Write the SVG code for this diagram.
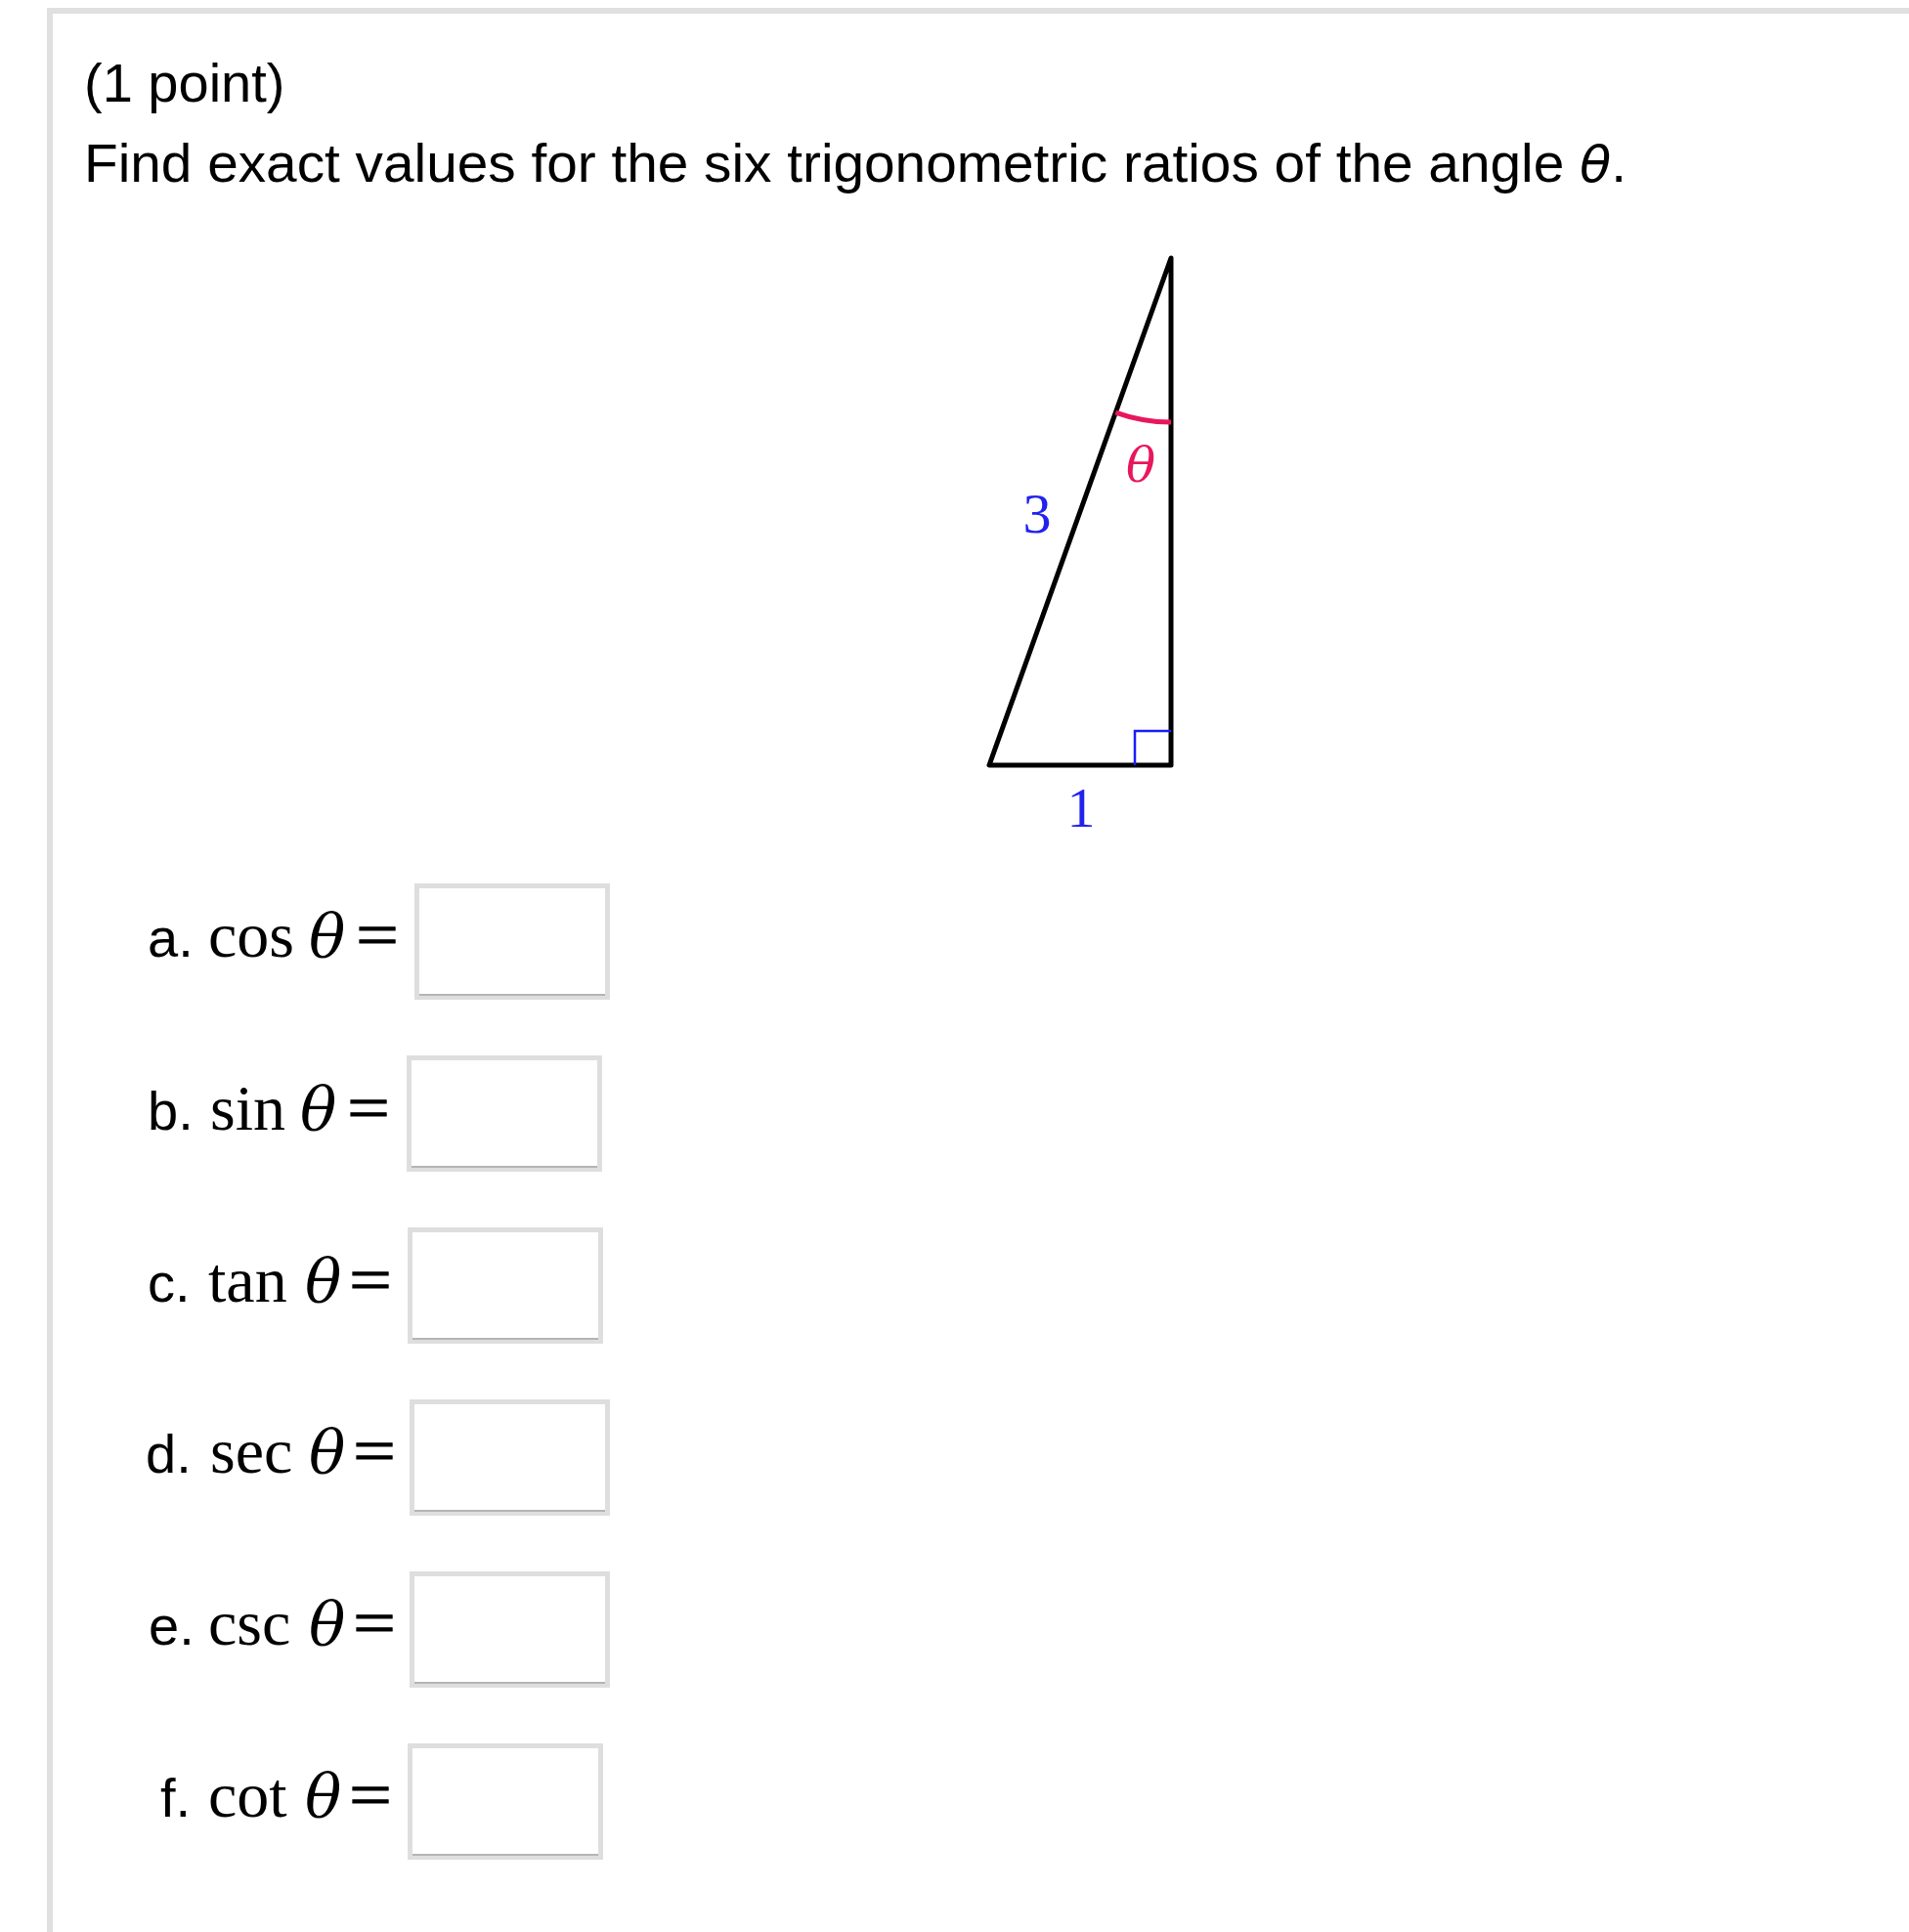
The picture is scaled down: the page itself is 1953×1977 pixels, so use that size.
<svg xmlns="http://www.w3.org/2000/svg" width="1953" height="1977" viewBox="0 0 1953 1977">
<style>
.sans{font-family:"Liberation Sans",Arial,sans-serif;fill:#000}
.ser{font-family:"Liberation Serif","Times New Roman",serif;fill:#000}
.th{font-family:"DejaVu Serif","Liberation Serif",serif;font-style:italic;fill:#000}
.lbl{font-size:56px}
.m{font-size:66px}
.tm{font-size:62px}
.eq{font-family:"Liberation Serif","Times New Roman",serif;font-size:66px;fill:#000;stroke:#000;stroke-width:0.8}
.box{fill:#fff;stroke:#dedede;stroke-width:5}
.sh{stroke:#b4b4b4;stroke-width:2}
</style>
<rect x="0" y="0" width="1953" height="1977" fill="#fff"/>
<g id="frame">
<rect x="48" y="8" width="1905" height="6" fill="#e0e0e0"/>
<rect x="48" y="8" width="6" height="1969" fill="#e0e0e0"/>
</g>
<g id="header">
<text class="sans" x="86" y="104" font-size="56">(1 point)</text>
<text class="sans" x="86" y="186" font-size="56" textLength="1578" lengthAdjust="spacingAndGlyphs">Find exact values for the six trigonometric ratios of the angle <tspan style="font-family:'DejaVu Sans',sans-serif;font-style:italic;font-size:52px">θ</tspan>.</text>
</g>
<g id="triangle">
<polygon points="1012,783 1198,783 1198,264" fill="none" stroke="#000" stroke-width="5" stroke-linejoin="round"/>
<polyline points="1161,783 1161,748 1198,748" fill="none" stroke="#1a1aff" stroke-width="2.5"/>
<path d="M1141.3,422.1 A168,168 0 0 0 1198,432" fill="none" stroke="#e8175d" stroke-width="5"/>
<text class="th" x="1167" y="493" font-size="50" text-anchor="middle" style="fill:#e8175d">θ</text>
<text class="ser" x="1061" y="545" font-size="58" text-anchor="middle" style="fill:#2222ee">3</text>
<text class="ser" x="1106" y="846" font-size="58" text-anchor="middle" style="fill:#2222ee">1</text>
</g>
<g id="row-a">
<text class="sans lbl" x="151" y="979">a.</text>
<text class="ser m" x="213" y="979">cos</text>
<text class="th tm" x="316" y="979">θ</text>
<text class="eq" x="364" y="979" textLength="44" lengthAdjust="spacingAndGlyphs">=</text>
<rect class="box" x="426.5" y="906.5" width="195" height="114"/>
<line class="sh" x1="429" y1="1018" x2="619" y2="1018"/>
</g>
<g id="row-b">
<text class="sans lbl" x="151" y="1156">b.</text>
<text class="ser m" x="215" y="1156">sin</text>
<text class="th tm" x="307" y="1156">θ</text>
<text class="eq" x="355" y="1156" textLength="44" lengthAdjust="spacingAndGlyphs">=</text>
<rect class="box" x="418.5" y="1082.5" width="195" height="114"/>
<line class="sh" x1="421" y1="1194" x2="611" y2="1194"/>
</g>
<g id="row-c">
<text class="sans lbl" x="151" y="1332">c.</text>
<text class="ser m" x="213" y="1332">tan</text>
<text class="th tm" x="312" y="1332">θ</text>
<text class="eq" x="357" y="1332" textLength="44" lengthAdjust="spacingAndGlyphs">=</text>
<rect class="box" x="419.5" y="1258.5" width="195" height="114"/>
<line class="sh" x1="422" y1="1370" x2="612" y2="1370"/>
</g>
<g id="row-d">
<text class="sans lbl" x="149" y="1507">d.</text>
<text class="ser m" x="215" y="1507">sec</text>
<text class="th tm" x="316" y="1507">θ</text>
<text class="eq" x="361" y="1507" textLength="44" lengthAdjust="spacingAndGlyphs">=</text>
<rect class="box" x="421.5" y="1434.5" width="200" height="114"/>
<line class="sh" x1="424" y1="1546" x2="619" y2="1546"/>
</g>
<g id="row-e">
<text class="sans lbl" x="152" y="1683">e.</text>
<text class="ser m" x="213" y="1683">csc</text>
<text class="th tm" x="316" y="1683">θ</text>
<text class="eq" x="361" y="1683" textLength="44" lengthAdjust="spacingAndGlyphs">=</text>
<rect class="box" x="421.5" y="1610.5" width="200" height="114"/>
<line class="sh" x1="424" y1="1722" x2="619" y2="1722"/>
</g>
<g id="row-f">
<text class="sans lbl" x="164" y="1859">f.</text>
<text class="ser m" x="213" y="1859">cot</text>
<text class="th tm" x="312" y="1859">θ</text>
<text class="eq" x="357" y="1859" textLength="44" lengthAdjust="spacingAndGlyphs">=</text>
<rect class="box" x="419.5" y="1786.5" width="195" height="114"/>
<line class="sh" x1="422" y1="1898" x2="612" y2="1898"/>
</g>
</svg>
